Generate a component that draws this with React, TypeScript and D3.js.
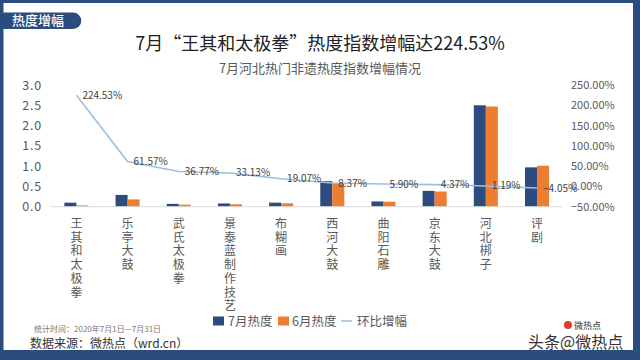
import React from "react";
import * as d3 from "d3";

const categories = ["王其和太极拳", "乐亭大鼓", "武氏太极拳", "景泰蓝制作技艺", "布糊画", "西河大鼓", "曲阳石雕", "京东大鼓", "河北梆子", "评剧"];
const julyHeat = [0.1, 0.29, 0.07, 0.08, 0.1, 0.63, 0.13, 0.39, 2.5, 0.97];
const juneHeat = [0.031, 0.18, 0.051, 0.06, 0.084, 0.58, 0.123, 0.374, 2.47, 1.01];
const growth = [224.53, 61.57, 36.77, 33.13, 19.07, 8.37, 5.9, 4.37, 1.19, -4.05];
const leftTicks = [0, 0.5, 1, 1.5, 2, 2.5, 3];
const rightTicks = [-50, 0, 50, 100, 150, 200, 250];
const seriesNames = ["7月热度", "6月热度", "环比增幅"];

const FRAME = "#2b4c7e";
const BLUE = "#2d4b7e";
const ORANGE = "#ed7d31";
const LINE = "#9dbfdf";
const FONT = "'Noto Sans CJK SC', 'Noto Sans', sans-serif";

export default function App() {
  const W = 640, H = 360;
  const x = d3.scaleBand<string>().domain(categories).range([50.8, 562.6]).paddingInner(0.53).paddingOuter(0.265);
  const x1 = d3.scaleBand<number>().domain([0, 1]).range([0, x.bandwidth()]);
  const yL = d3.scaleLinear().domain([0, 3]).range([206.7, 85]);
  const yR = d3.scaleLinear().domain([-50, 250]).range([206.7, 85]);
  const cx = (c: string) => (x(c) as number) + x.bandwidth() / 2;
  const line = d3.line<number>().x((_, i) => cx(categories[i])).y((d) => yR(d));

  return (
    <svg width={W} height={H} style={{ position: "absolute", left: 0, top: 0, fontFamily: FONT }}>
      <rect x={0} y={0} width={W} height={H} fill="#ffffff" />
      {/* frame */}
      <rect x={0} y={0} width={W} height={3} fill={FRAME} />
      <rect x={0} y={0} width={3.5} height={H} fill={FRAME} />
      <rect x={633} y={0} width={7} height={H} fill={FRAME} />
      <rect x={0} y={350} width={W} height={10} fill={FRAME} />
      {/* header tab */}
      <path d="M3,12.5 H73 A8.25,8.25 0 0 1 73,29 H3 Z" fill={FRAME} />
      <text x={12} y={25} fill="#ffffff" fontSize={13} fontWeight={500}>热度增幅</text>
      {/* titles */}
      <text x={320} y={50} textAnchor="middle" fontSize={18} fill="#222">7月“王其和太极拳”热度指数增幅达224.53%</text>
      <text x={320} y={73} textAnchor="middle" fontSize={13} fill="#595959">7月河北热门非遗热度指数增幅情况</text>
      {/* left axis ticks */}
      {leftTicks.map((t) => (
        <text key={"l" + t} x={42} y={yL(t) + 4.5} textAnchor="end" fontSize={12.5} fill="#595959" letterSpacing={0.8}>{d3.format(".1f")(t)}</text>
      ))}
      {rightTicks.map((t) => (
        <text key={"r" + t} x={571} y={yR(t) + 4} textAnchor="start" fontSize={11} fill="#595959">{d3.format(".2f")(t) + "%"}</text>
      ))}
      {/* bars */}
      {categories.map((c, i) => (
        <g key={c}>
          <rect x={(x(c) as number) + (x1(0) as number)} y={yL(julyHeat[i])} width={x1.bandwidth()} height={yL(0) - yL(julyHeat[i])} fill={BLUE} />
          <rect x={(x(c) as number) + (x1(1) as number)} y={yL(juneHeat[i])} width={x1.bandwidth()} height={yL(0) - yL(juneHeat[i])} fill={ORANGE} />
        </g>
      ))}
      {/* baseline */}
      <line x1={50.8} x2={562.6} y1={yL(0)} y2={yL(0)} stroke="#d9d9d9" strokeWidth={1} />
      {/* line */}
      <path d={line(growth) || ""} fill="none" stroke={LINE} strokeWidth={1.6} />
      {growth.map((g, i) => (
        <text key={"g" + i} x={cx(categories[i]) + 6} y={yR(g) + 3.5} fontSize={10} fill="#404040">{d3.format(".2f")(g) + "%"}</text>
      ))}
      {/* category labels, vertical */}
      {categories.map((c) =>
        Array.from(c).map((ch, j) => (
          <text key={"c" + c + j} x={cx(c)} y={228 + j * 13.7} fontSize={12} fill="#595959" textAnchor="middle">{ch}</text>
        ))
      )}
      {/* legend */}
      <rect x={213} y={316.5} width={11} height={9} fill={BLUE} />
      <text x={228} y={326} fontSize={12.5} fill="#595959">{seriesNames[0]}</text>
      <rect x={278} y={316.5} width={11} height={9} fill={ORANGE} />
      <text x={292} y={326} fontSize={12.5} fill="#595959">{seriesNames[1]}</text>
      <line x1={341} x2={352} y1={321} y2={321} stroke={LINE} strokeWidth={1.6} />
      <text x={357} y={326} fontSize={12.5} fill="#595959">{seriesNames[2]}</text>
      {/* footnotes */}
      <text x={34} y={332} fontSize={8} fill="#777">统计时间：2020年7月1日—7月31日</text>
      <text x={30} y={348} fontSize={12} fill="#333">数据来源：微热点（wrd.cn）</text>
      {/* watermark */}
      <circle cx={568} cy={325} r={4} fill="#e23b2e" />
      <text x={574} y={329} fontSize={9} fill="#333">微热点</text>
      <text x={528} y={348} fontSize={16} fill="#333">头条@微热点</text>
    </svg>
  );
}
